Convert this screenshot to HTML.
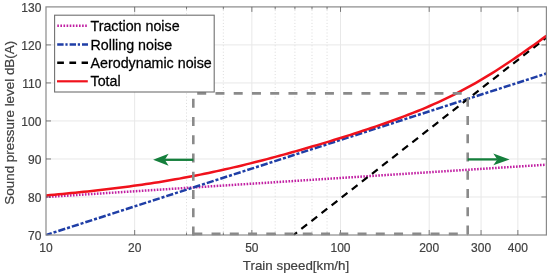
<!DOCTYPE html>
<html><head><meta charset="utf-8"><title>Noise vs train speed</title>
<style>html,body{margin:0;padding:0;background:#fff}body{width:550px;height:276px;position:relative;overflow:hidden}</style></head>
<body>
<svg width="550" height="276" viewBox="0 0 550 276" style="display:block;position:absolute;left:0;top:0">
<rect x="0" y="0" width="550" height="276" fill="#fff"/>
<g stroke="#e8e8e8" stroke-width="1" fill="none">
<line x1="134.66" y1="6.9" x2="134.66" y2="235"/>
<line x1="251.87" y1="6.9" x2="251.87" y2="235"/>
<line x1="340.53" y1="6.9" x2="340.53" y2="235"/>
<line x1="429.19" y1="6.9" x2="429.19" y2="235"/>
<line x1="481.06" y1="6.9" x2="481.06" y2="235"/>
<line x1="517.86" y1="6.9" x2="517.86" y2="235"/>
<line x1="46" y1="196.98" x2="546.4" y2="196.98"/>
<line x1="46" y1="158.97" x2="546.4" y2="158.97"/>
<line x1="46" y1="120.95" x2="546.4" y2="120.95"/>
<line x1="46" y1="82.93" x2="546.4" y2="82.93"/>
<line x1="46" y1="44.92" x2="546.4" y2="44.92"/>
</g>
<g stroke="#dadada" stroke-width="1" stroke-dasharray="1 2.2" fill="none">
<line x1="186.53" y1="6.9" x2="186.53" y2="235"/>
<line x1="223.33" y1="6.9" x2="223.33" y2="235"/>
<line x1="275.19" y1="6.9" x2="275.19" y2="235"/>
<line x1="294.91" y1="6.9" x2="294.91" y2="235"/>
<line x1="311.99" y1="6.9" x2="311.99" y2="235"/>
<line x1="327.05" y1="6.9" x2="327.05" y2="235"/>
</g>
<defs><clipPath id="c"><rect x="46" y="5.9" width="500.4" height="229.7"/></clipPath></defs>
<g clip-path="url(#c)" fill="none">
<path d="M46 196.98L546.4 164.69" stroke="#c11fa2" stroke-width="2.5" stroke-dasharray="1.6 1.4"/>
<path d="M46 235L546.4 73.53" stroke="#1f3ea6" stroke-width="2.5" stroke-dasharray="7.2 1.95 3.05 1.98" stroke-dashoffset="1.2"/>
<path d="M293.62 235L546.4 37.6" stroke="#000" stroke-width="2.2" stroke-dasharray="7.3 5.5" stroke-dashoffset="3.0"/>
<path d="M46 195.41L50.17 195.04L54.34 194.66L58.51 194.28L62.68 193.89L66.85 193.5L71.02 193.09L75.19 192.68L79.36 192.26L83.53 191.83L87.7 191.39L91.87 190.95L96.04 190.49L100.21 190.02L104.38 189.54L108.55 189.05L112.72 188.55L116.89 188.04L121.06 187.51L125.23 186.97L129.4 186.42L133.57 185.86L137.74 185.28L141.91 184.68L146.08 184.07L150.25 183.45L154.42 182.81L158.59 182.15L162.76 181.47L166.93 180.78L171.1 180.08L175.27 179.35L179.44 178.61L183.61 177.85L187.78 177.08L191.95 176.29L196.12 175.47L200.29 174.64L204.46 173.8L208.63 172.93L212.8 172.05L216.97 171.15L221.14 170.24L225.31 169.31L229.48 168.36L233.65 167.39L237.82 166.41L241.99 165.41L246.16 164.4L250.33 163.37L254.5 162.32L258.67 161.27L262.84 160.19L267.01 159.11L271.18 158.01L275.35 156.89L279.52 155.77L283.69 154.63L287.86 153.48L292.03 152.31L296.2 151.14L300.37 149.95L304.54 148.75L308.71 147.54L312.88 146.32L317.05 145.09L321.22 143.85L325.39 142.6L329.56 141.33L333.73 140.06L337.9 138.77L342.07 137.47L346.24 136.16L350.41 134.84L354.58 133.51L358.75 132.16L362.92 130.8L367.09 129.42L371.26 128.02L375.43 126.61L379.6 125.18L383.77 123.74L387.94 122.27L392.11 120.77L396.28 119.26L400.45 117.72L404.62 116.15L408.79 114.54L412.96 112.91L417.13 111.24L421.3 109.54L425.47 107.8L429.64 106.01L433.81 104.18L437.98 102.31L442.15 100.38L446.32 98.41L450.49 96.38L454.66 94.3L458.83 92.16L463 89.97L467.17 87.72L471.34 85.42L475.51 83.06L479.68 80.64L483.85 78.17L488.02 75.65L492.19 73.07L496.36 70.44L500.53 67.77L504.7 65.04L508.87 62.28L513.04 59.47L517.21 56.63L521.38 53.74L525.55 50.83L529.72 47.88L533.89 44.9L538.06 41.9L542.23 38.87L546.4 35.82" stroke="#f0121c" stroke-width="2.5"/>
</g>
<rect x="46" y="6.9" width="500.4" height="228.1" fill="none" stroke="#8a8a8a" stroke-width="1.2"/>
<g stroke="#5c5c5c" stroke-width="0.8" fill="none">
<line x1="134.66" y1="235" x2="134.66" y2="230"/>
<line x1="134.66" y1="6.9" x2="134.66" y2="11.9"/>
<line x1="251.87" y1="235" x2="251.87" y2="230"/>
<line x1="251.87" y1="6.9" x2="251.87" y2="11.9"/>
<line x1="340.53" y1="235" x2="340.53" y2="230"/>
<line x1="340.53" y1="6.9" x2="340.53" y2="11.9"/>
<line x1="429.19" y1="235" x2="429.19" y2="230"/>
<line x1="429.19" y1="6.9" x2="429.19" y2="11.9"/>
<line x1="481.06" y1="235" x2="481.06" y2="230"/>
<line x1="481.06" y1="6.9" x2="481.06" y2="11.9"/>
<line x1="517.86" y1="235" x2="517.86" y2="230"/>
<line x1="517.86" y1="6.9" x2="517.86" y2="11.9"/>
<line x1="186.53" y1="235" x2="186.53" y2="232.5"/>
<line x1="186.53" y1="6.9" x2="186.53" y2="9.4"/>
<line x1="223.33" y1="235" x2="223.33" y2="232.5"/>
<line x1="223.33" y1="6.9" x2="223.33" y2="9.4"/>
<line x1="275.19" y1="235" x2="275.19" y2="232.5"/>
<line x1="275.19" y1="6.9" x2="275.19" y2="9.4"/>
<line x1="294.91" y1="235" x2="294.91" y2="232.5"/>
<line x1="294.91" y1="6.9" x2="294.91" y2="9.4"/>
<line x1="311.99" y1="235" x2="311.99" y2="232.5"/>
<line x1="311.99" y1="6.9" x2="311.99" y2="9.4"/>
<line x1="327.05" y1="235" x2="327.05" y2="232.5"/>
<line x1="327.05" y1="6.9" x2="327.05" y2="9.4"/>
<line x1="46" y1="196.98" x2="51" y2="196.98"/>
<line x1="546.4" y1="196.98" x2="541.4" y2="196.98"/>
<line x1="46" y1="158.97" x2="51" y2="158.97"/>
<line x1="546.4" y1="158.97" x2="541.4" y2="158.97"/>
<line x1="46" y1="120.95" x2="51" y2="120.95"/>
<line x1="546.4" y1="120.95" x2="541.4" y2="120.95"/>
<line x1="46" y1="82.93" x2="51" y2="82.93"/>
<line x1="546.4" y1="82.93" x2="541.4" y2="82.93"/>
<line x1="46" y1="44.92" x2="51" y2="44.92"/>
<line x1="546.4" y1="44.92" x2="541.4" y2="44.92"/>
</g>
<g stroke="#8a8a8a" stroke-width="2.6" fill="none" stroke-dasharray="9 9.25">
<path d="M193.3 235.5L193.3 93.4L467.7 93.4"/>
<path d="M193.3 233.9L467.7 233.9"/>
<path d="M467.7 235L467.7 93.4" stroke-dashoffset="-0.6"/>
</g>
<line x1="193.4" y1="159.8" x2="164.8" y2="159.8" stroke="#157f3c" stroke-width="2.3"/>
<path d="M153.1 159.8L168.6 153.8L164.8 159.8L168.6 165.8Z" fill="#157f3c"/>
<line x1="467.7" y1="159.4" x2="497.3" y2="159.4" stroke="#157f3c" stroke-width="2.3"/>
<path d="M509.6 159.4L493.3 153.6L497.3 159.4L493.3 165.2Z" fill="#157f3c"/>
<rect x="54.6" y="15.2" width="159.6" height="76.8" fill="#fff" stroke="#707070" stroke-width="1.1"/>
<g fill="none">
<line x1="57.3" y1="25.8" x2="86.9" y2="25.8" stroke="#c11fa2" stroke-width="2.5" stroke-dasharray="1.6 1.5"/>
<line x1="57.2" y1="44.5" x2="88" y2="44.5" stroke="#1f3ea6" stroke-width="2.4" stroke-dasharray="6.4 1.8 2.2 2"/>
<line x1="57.2" y1="62.7" x2="88" y2="62.7" stroke="#000" stroke-width="2.4" stroke-dasharray="6.7 5.5"/>
<line x1="57" y1="81.3" x2="87.8" y2="81.3" stroke="#f0121c" stroke-width="2.2"/>
</g>
<g font-family="'Liberation Sans', Arial, sans-serif" font-size="14" fill="#000" stroke="#000" stroke-width="0.25">
<text transform="translate(90.5 31) scale(1.02 1)">Traction noise</text>
<text transform="translate(90.5 49.5) scale(1.02 1)">Rolling noise</text>
<text transform="translate(90.5 67.7) scale(1.02 1)">Aerodynamic noise</text>
<text transform="translate(90.5 86.3) scale(1.02 1)">Total</text>
</g>
<g font-family="'Liberation Sans', Arial, sans-serif" font-size="12" fill="#404040" stroke="#404040" stroke-width="0.2">
<text x="46" y="252.1" text-anchor="middle">10</text>
<text x="134.66" y="252.1" text-anchor="middle">20</text>
<text x="251.87" y="252.1" text-anchor="middle">50</text>
<text x="340.53" y="252.1" text-anchor="middle">100</text>
<text x="429.19" y="252.1" text-anchor="middle">200</text>
<text x="481.06" y="252.1" text-anchor="middle">300</text>
<text x="517.86" y="252.1" text-anchor="middle">400</text>
<text x="41.4" y="239.6" text-anchor="end">70</text>
<text x="41.4" y="201.58" text-anchor="end">80</text>
<text x="41.4" y="163.57" text-anchor="end">90</text>
<text x="41.4" y="125.55" text-anchor="end">100</text>
<text x="41.4" y="87.53" text-anchor="end">110</text>
<text x="41.4" y="49.52" text-anchor="end">120</text>
<text x="41.4" y="11.5" text-anchor="end">130</text>
</g>
<g font-family="'Liberation Sans', Arial, sans-serif" font-size="13" fill="#404040" stroke="#404040" stroke-width="0.2">
<text x="296" y="269.6" text-anchor="middle" font-size="13.35">Train speed[km/h]</text>
<text transform="translate(14 122.75) rotate(-90)" text-anchor="middle" font-size="13.4">Sound pressure level dB(A)</text>
</g>
</svg>
</body></html>
